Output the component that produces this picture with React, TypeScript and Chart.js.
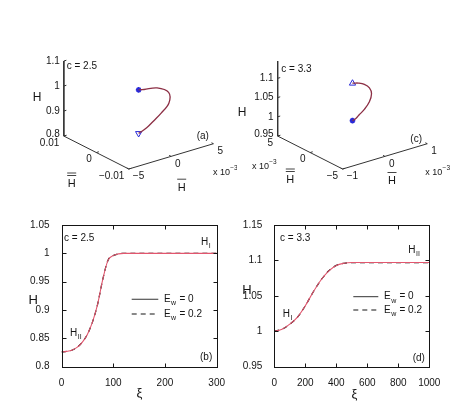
import React, { useEffect, useRef } from 'react';
import { Chart, registerables } from 'chart.js';

Chart.register(...registerables);

// ---------------- data: panel (b) ----------------
const XI_B = [0, 10, 20, 30, 40, 50, 60, 70, 80, 90, 100, 110, 120, 150, 200, 250, 300];
const H_B_EW0 = [0.826, 0.827, 0.829, 0.834, 0.843, 0.857, 0.879, 0.911, 0.955, 0.988, 0.996, 0.999, 1.0, 1.0, 1.0, 1.0, 1.0];
const H_B_EW02 = [0.826, 0.827, 0.829, 0.834, 0.843, 0.857, 0.879, 0.911, 0.955, 0.988, 0.996, 0.999, 1.0, 1.0, 1.0, 1.0, 1.0];
const XTICKS_B = [0, 100, 200, 300];
const XLABELS_B = ['0', '100', '200', '300'];
const YTICKS_B = [0.8, 0.85, 0.9, 0.95, 1, 1.05];
const YLABELS_B = ['0.8', '0.85', '0.9', '0.95', '1', '1.05'];

// ---------------- data: panel (d) ----------------
const XI_D = [0, 50, 100, 150, 200, 250, 300, 350, 400, 450, 500, 600, 700, 800, 900, 1000];
const H_D_EW0 = [1.0, 1.003, 1.01, 1.02, 1.036, 1.055, 1.072, 1.085, 1.093, 1.096, 1.097, 1.097, 1.097, 1.097, 1.097, 1.097];
const H_D_EW02 = [1.0, 1.003, 1.01, 1.02, 1.036, 1.055, 1.072, 1.085, 1.093, 1.096, 1.097, 1.097, 1.097, 1.097, 1.097, 1.097];
const XTICKS_D = [0, 200, 400, 600, 800, 1000];
const XLABELS_D = ['0', '200', '400', '600', '800', '1000'];
const YTICKS_D = [0.95, 1, 1.05, 1.1, 1.15];
const YLABELS_D = ['0.95', '1', '1.05', '1.1', '1.15'];

// ---------------- data: panel (a), phase-space orbit (H'', H', H) ----------------
const H_A = [0.826, 0.827, 0.829, 0.834, 0.843, 0.857, 0.879, 0.911, 0.955, 0.988, 0.996, 0.999, 1.0];
const HP_A = [0, 0.0001, 0.0003, 0.0007, 0.0012, 0.0018, 0.0027, 0.0036, 0.0035, 0.0021, 0.0006, 0.0002, 0];
const HPP_A = [0, 0.00001, 0.00003, 0.00005, 0.00006, 0.00008, 0.0001, 0.00005, -0.0001, -0.0002, -0.0001, -0.00003, 0];
const U_TICKS_A = [-0.01, 0, 0.01];
const U_LABELS_A = ['\u22120.01', '0', '0.01'];
const V_TICKS_A = [-0.005, 0, 0.005];
const V_LABELS_A = ['\u22125', '0', '5'];
const H_TICKS_A = [0.8, 0.9, 1, 1.1];
const H_LABELS_A = ['0.8', '0.9', '1', '1.1'];

// ---------------- data: panel (c) ----------------
const H_C = [1.0, 1.003, 1.01, 1.02, 1.036, 1.055, 1.072, 1.085, 1.093, 1.096, 1.097, 1.097];
const HP_C = [0, 0.00008, 0.00016, 0.00028, 0.0004, 0.00045, 0.0004, 0.00028, 0.00014, 0.00005, 0.00001, 0];
const HPP_C = [0, 0.000001, 0.000002, 0.000002, 0.000001, 0, -0.000001, -0.000002, -0.000002, -0.000001, 0, 0];
const U_TICKS_C = [-0.005, 0, 0.005];
const U_LABELS_C = ['\u22125', '0', '5'];
const V_TICKS_C = [-0.001, 0, 0.001];
const V_LABELS_C = ['\u22121', '0', '1'];
const H_TICKS_C = [0.95, 1, 1.05, 1.1];
const H_LABELS_C = ['0.95', '1', '1.05', '1.1'];

// ---------------- styling ----------------
const FONT = '"Liberation Sans", Arial, Helvetica, sans-serif';
const f = (s: number) => `${s}px ${FONT}`;
const RED = '#e2566e';
const MAROON = '#8c2f45';
const BLUE = '#2a2ad8';
const INK = '#151515';

// 3D view (MATLAB-like orthographic view)
const AZ = (-37.5 * Math.PI) / 180;
const EL = (23.5 * Math.PI) / 180;
const BOX_U = 112, BOX_V = 112, BOX_H = 88;
function proj(nu: number, nv: number, nh: number) {
  const b = Math.PI / 2 + AZ;
  return {
    x: -BOX_U * nu * Math.cos(b) + BOX_V * nv * Math.sin(b),
    y: Math.sin(EL) * (BOX_U * nu * Math.sin(b) + BOX_V * nv * Math.cos(b)) + BOX_H * nh * Math.cos(EL),
  };
}

function drawSub(ctx: any, x: number, y: number, main: string, sub: string, rest: string, size: number) {
  ctx.textAlign = 'left';
  ctx.textBaseline = 'middle';
  ctx.font = f(size);
  ctx.fillText(main, x, y);
  const w = ctx.measureText(main).width;
  ctx.font = f(Math.round(size * 0.7));
  ctx.fillText(sub, x + w + 0.5, y + size * 0.4);
  const w2 = ctx.measureText(sub).width;
  if (rest) {
    ctx.font = f(size);
    ctx.fillText(rest, x + w + 1 + w2, y);
  }
}

function drawOverH(ctx: any, x: number, y: number, bars: number) {
  ctx.font = f(11);
  ctx.textAlign = 'center';
  ctx.textBaseline = 'middle';
  ctx.fillText('H', x, y);
  ctx.lineWidth = 0.8;
  ctx.strokeStyle = INK;
  for (let k = 0; k < bars; k++) {
    const yy = y - 8.5 - k * 2.5;
    ctx.beginPath();
    ctx.moveTo(x - 4.5, yy);
    ctx.lineTo(x + 4.5, yy);
    ctx.stroke();
  }
}

// ---------------- 2D panels ----------------
function make2D(canvas: HTMLCanvasElement, c: any) {
  const plugin = {
    id: 'box2d',
    afterDraw(chart: any) {
      const { ctx, chartArea: a } = chart;
      const xs = chart.scales.x, ys = chart.scales.y;
      const L = Math.round(a.left) + 0.5, R = Math.round(a.right) + 0.5;
      const T = Math.round(a.top) + 0.5, B = Math.round(a.bottom) + 0.5;
      ctx.save();
      ctx.strokeStyle = INK;
      ctx.lineWidth = 1;
      ctx.strokeRect(L, T, R - L, B - T);
      ctx.beginPath();
      c.xt.forEach((v: number) => {
        const p = Math.round(xs.getPixelForValue(v)) + 0.5;
        ctx.moveTo(p, B); ctx.lineTo(p, B - 4);
        ctx.moveTo(p, T); ctx.lineTo(p, T + 4);
      });
      c.yt.forEach((v: number) => {
        const p = Math.round(ys.getPixelForValue(v)) + 0.5;
        ctx.moveTo(L, p); ctx.lineTo(L + 4, p);
        ctx.moveTo(R, p); ctx.lineTo(R - 4, p);
      });
      ctx.stroke();

      ctx.fillStyle = INK;
      const X = (v: number) => xs.getPixelForValue(v);
      const Y = (v: number) => ys.getPixelForValue(v);
      ctx.font = f(10);
      ctx.textAlign = 'left';
      ctx.textBaseline = 'middle';
      ctx.fillText(c.cText, X(c.cPos[0]), Y(c.cPos[1]));
      ctx.fillText(c.tag, X(c.tagPos[0]), Y(c.tagPos[1]));
      drawSub(ctx, X(c.s1Pos[0]), Y(c.s1Pos[1]), 'H', c.s1Sub, '', 10);
      drawSub(ctx, X(c.s2Pos[0]), Y(c.s2Pos[1]), 'H', c.s2Sub, '', 10);
      // legend
      ctx.lineWidth = 1;
      ctx.strokeStyle = '#333';
      ctx.beginPath();
      ctx.moveTo(X(c.legX[0]), Y(c.legY[0]));
      ctx.lineTo(X(c.legX[1]), Y(c.legY[0]));
      ctx.stroke();
      ctx.strokeStyle = INK;
      ctx.lineWidth = 1.2;
      ctx.setLineDash([5, 4]);
      ctx.beginPath();
      ctx.moveTo(X(c.legX[0]), Y(c.legY[1]));
      ctx.lineTo(X(c.legX[1]), Y(c.legY[1]));
      ctx.stroke();
      ctx.setLineDash([]);
      drawSub(ctx, X(c.legText), Y(c.legY[0]), 'E', 'w', ' = 0', 10);
      drawSub(ctx, X(c.legText), Y(c.legY[1]), 'E', 'w', ' = 0.2', 10);
      // axis titles
      ctx.font = f(13);
      ctx.textAlign = 'center';
      ctx.fillText('H', c.hTitle[0], c.hTitle[1]);
      ctx.fillText('\u03be', c.xTitle[0], c.xTitle[1]);
      ctx.restore();
    },
  };

  return new Chart(canvas, {
    type: 'line',
    data: {
      datasets: [
        {
          label: 'Ew = 0',
          data: c.xi.map((x: number, i: number) => ({ x, y: c.h0[i] })),
          borderColor: RED,
          borderWidth: 1.1,
          pointRadius: 0,
          cubicInterpolationMode: 'monotone',
          fill: false,
        },
        {
          label: 'Ew = 0.2',
          data: c.xi.map((x: number, i: number) => ({ x, y: c.h1[i] })),
          borderColor: '#000',
          borderWidth: 1.2,
          borderDash: [5, 4],
          pointRadius: 0,
          cubicInterpolationMode: 'monotone',
          fill: false,
        },
      ],
    },
    options: {
      animation: false,
      responsive: false,
      maintainAspectRatio: false,
      layout: { padding: { left: 0, right: c.padR, top: 10, bottom: c.padB } },
      plugins: { legend: { display: false }, tooltip: { enabled: false } },
      scales: {
        x: {
          type: 'linear',
          min: c.xr[0],
          max: c.xr[1],
          afterBuildTicks: (s: any) => { s.ticks = c.xt.map((v: number) => ({ value: v })); },
          afterFit: (s: any) => { s.height = 30; },
          grid: { display: false },
          border: { display: false },
          ticks: {
            callback: (_v: any, i: number) => c.xl[i],
            font: { family: FONT, size: 10 },
            color: INK,
            padding: 3,
            maxRotation: 0,
            autoSkip: false,
          },
        },
        y: {
          type: 'linear',
          min: c.yr[0],
          max: c.yr[1],
          afterBuildTicks: (s: any) => { s.ticks = c.yt.map((v: number) => ({ value: v })); },
          afterFit: (s: any) => { s.width = c.yw; },
          grid: { display: false },
          border: { display: false },
          ticks: {
            callback: (_v: any, i: number) => c.yl[i],
            font: { family: FONT, size: 10 },
            color: INK,
            padding: 4,
            autoSkip: false,
          },
        },
      },
    },
    plugins: [plugin],
  } as any);
}

// ---------------- 3D panels ----------------
function make3D(canvas: HTMLCanvasElement, p: any) {
  const W = canvas.width, Hh = canvas.height;
  const [u0, u1] = p.ur, [v0, v1] = p.vr, [h0, h1] = p.hr;
  const N = (val: number, a: number, b: number) => (val - a) / (b - a);
  const P = (u: number, v: number, h: number) => proj(N(u, u0, u1), N(v, v0, v1), N(h, h0, h1));
  const curve = p.H.map((h: number, i: number) => P(p.HPP[i], p.HP[i], h));
  const axes = [P(u1, v0, h1), P(u1, v0, h0), P(u0, v0, h0), P(u0, v1, h0)];

  const plugin = {
    id: 'axes3d',
    afterDraw(chart: any) {
      const { ctx } = chart;
      const xs = chart.scales.x, ys = chart.scales.y;
      const px = (q: any) => [xs.getPixelForValue(q.x), ys.getPixelForValue(q.y)];
      const du = u1 - u0, dv = v1 - v0;
      ctx.save();
      ctx.strokeStyle = '#333';
      ctx.lineWidth = 1;
      ctx.fillStyle = INK;
      ctx.font = f(10);
      ctx.textBaseline = 'middle';
      p.ht.forEach((h: number, i: number) => {
        const [ax, ay] = px(P(u1, v0, h));
        const [bx, by] = px(P(u1, v0 + 0.03 * dv, h));
        ctx.beginPath(); ctx.moveTo(ax, ay); ctx.lineTo(bx, by); ctx.stroke();
        ctx.textAlign = 'right';
        ctx.fillText(p.hl[i], ax - 4, ay - (i === 0 ? 2 : 0));
      });
      p.ut.forEach((u: number, i: number) => {
        const [ax, ay] = px(P(u, v0, h0));
        const [bx, by] = px(P(u, v0 + 0.03 * dv, h0));
        ctx.beginPath(); ctx.moveTo(ax, ay); ctx.lineTo(bx, by); ctx.stroke();
        ctx.textAlign = 'right';
        ctx.fillText(p.ul[i], ax - 4.5, ay + 7);
      });
      p.vt.forEach((v: number, i: number) => {
        const [ax, ay] = px(P(u0, v, h0));
        const [bx, by] = px(P(u0 + 0.03 * du, v, h0));
        ctx.beginPath(); ctx.moveTo(ax, ay); ctx.lineTo(bx, by); ctx.stroke();
        ctx.textAlign = 'left';
        ctx.fillText(p.vl[i], ax + 4, ay + 7.5);
      });
      const mult = (x: number, y: number) => {
        ctx.font = f(9);
        ctx.textAlign = 'left';
        ctx.fillText('x 10', x, y);
        const w = ctx.measureText('x 10').width;
        ctx.font = f(6.5);
        ctx.fillText('\u22123', x + w + 0.3, y - 4);
      };
      p.mults.forEach((m: number[]) => mult(m[0], m[1]));
      ctx.font = f(10);
      ctx.textAlign = 'left';
      ctx.fillText(p.cText, p.cPos[0], p.cPos[1]);
      ctx.fillText(p.tag, p.tagPos[0], p.tagPos[1]);
      ctx.font = f(12);
      ctx.textAlign = 'center';
      ctx.fillText('H', p.hTitle[0], p.hTitle[1]);
      drawOverH(ctx, p.uTitle[0], p.uTitle[1], 2);
      drawOverH(ctx, p.vTitle[0], p.vTitle[1], 1);
      ctx.restore();
    },
  };

  return new Chart(canvas, {
    type: 'scatter',
    data: {
      datasets: [
        { data: axes, showLine: true, borderColor: '#333', borderWidth: 1, pointRadius: 0, tension: 0 },
        { data: curve, showLine: true, borderColor: MAROON, borderWidth: 1.3, pointRadius: 0, tension: 0.35 },
        {
          data: [curve[p.starIdx]],
          pointStyle: 'star',
          pointRadius: 2.8,
          borderColor: BLUE,
          backgroundColor: BLUE,
          borderWidth: 1.6,
        },
        {
          data: [curve[p.triIdx]],
          pointStyle: 'triangle',
          rotation: p.triRot,
          pointRadius: 3.6,
          borderColor: BLUE,
          backgroundColor: 'rgba(0,0,0,0)',
          borderWidth: 1,
        },
      ],
    },
    options: {
      animation: false,
      responsive: false,
      maintainAspectRatio: false,
      layout: { padding: 0 },
      plugins: { legend: { display: false }, tooltip: { enabled: false } },
      scales: {
        x: { type: 'linear', display: false, min: -p.origin[0], max: W - p.origin[0] },
        y: { type: 'linear', display: false, min: -(Hh - p.origin[1]), max: p.origin[1] },
      },
    },
    plugins: [plugin],
  } as any);
}

export default function App() {
  const refA = useRef<HTMLCanvasElement>(null);
  const refB = useRef<HTMLCanvasElement>(null);
  const refC = useRef<HTMLCanvasElement>(null);
  const refD = useRef<HTMLCanvasElement>(null);

  useEffect(() => {
    const charts: any[] = [];
    charts.push(
      make3D(refA.current!, {
        H: H_A, HP: HP_A, HPP: HPP_A,
        ur: [-0.01, 0.01], vr: [-0.005, 0.005], hr: [0.8, 1.1],
        ut: U_TICKS_A, ul: U_LABELS_A, vt: V_TICKS_A, vl: V_LABELS_A, ht: H_TICKS_A, hl: H_LABELS_A,
        origin: [129.3, 132.7],
        starIdx: H_A.length - 1, triIdx: 0, triRot: 180,
        mults: [[213, 132.7]],
        cText: 'c = 2.5', cPos: [66.7, 26],
        tag: '(a)', tagPos: [196.7, 96.7],
        hTitle: [37, 58],
        uTitle: [71.7, 144], vTitle: [181.7, 147.7],
      })
    );
    charts.push(
      make3D(refC.current!, {
        H: H_C, HP: HP_C, HPP: HPP_C,
        ur: [-0.005, 0.005], vr: [-0.001, 0.001], hr: [0.95, 1.145],
        ut: U_TICKS_C, ul: U_LABELS_C, vt: V_TICKS_C, vl: V_LABELS_C, ht: H_TICKS_C, hl: H_LABELS_C,
        origin: [105, 132.7],
        starIdx: 0, triIdx: H_C.length - 1, triRot: 0,
        mults: [[188.3, 132.7], [15, 126.7]],
        cText: 'c = 3.3', cPos: [44.3, 29.3],
        tag: '(c)', tagPos: [173.3, 99],
        hTitle: [5, 72.7],
        uTitle: [53.3, 140], vTitle: [155, 141],
      })
    );
    charts.push(
      make2D(refB.current!, {
        xi: XI_B, h0: H_B_EW0, h1: H_B_EW02,
        xr: [0, 300], yr: [0.8, 1.05],
        xt: XTICKS_B, xl: XLABELS_B, yt: YTICKS_B, yl: YLABELS_B,
        yw: 61.5, padR: 20.3, padB: 16.3,
        cText: 'c = 2.5', cPos: [5, 1.027],
        tag: '(b)', tagPos: [267.7, 0.816],
        s1Sub: 'I', s1Pos: [269.7, 1.0195],
        s2Sub: 'II', s2Pos: [16.4, 0.859],
        legX: [135.7, 187.1], legY: [0.919, 0.893], legText: 198,
        hTitle: [33.3, 85], xTitle: [139.3, 178],
      })
    );
    charts.push(
      make2D(refD.current!, {
        xi: XI_D, h0: H_D_EW0, h1: H_D_EW02,
        xr: [0, 1000], yr: [0.95, 1.15],
        xt: XTICKS_D, xl: XLABELS_D, yt: YTICKS_D, yl: YLABELS_D,
        yw: 37.3, padR: 44.7, padB: 16.3,
        cText: 'c = 3.3', cPos: [36.8, 1.131],
        tag: '(d)', tagPos: [893, 0.9619],
        s1Sub: 'II', s1Pos: [864.5, 1.1147],
        s2Sub: 'I', s2Pos: [54, 1.0244],
        legX: [509.7, 671], legY: [1.0488, 1.03], legText: 707.7,
        hTitle: [10, 75.7], xTitle: [117.3, 179],
      })
    );
    return () => charts.forEach((c) => c.destroy());
  }, []);

  const pos = (l: number, t: number): React.CSSProperties => ({ position: 'absolute', left: l, top: t });
  return (
    <div style={{ position: 'absolute', left: 0, top: 0, width: 474, height: 413, background: '#fff', overflow: 'hidden' }}>
      <canvas ref={refA} width={237} height={160} style={pos(0, 40)} />
      <canvas ref={refC} width={237} height={160} style={pos(237, 40)} />
      <canvas ref={refB} width={237} height={198} style={pos(0, 215)} />
      <canvas ref={refD} width={237} height={198} style={pos(237, 215)} />
    </div>
  );
}
